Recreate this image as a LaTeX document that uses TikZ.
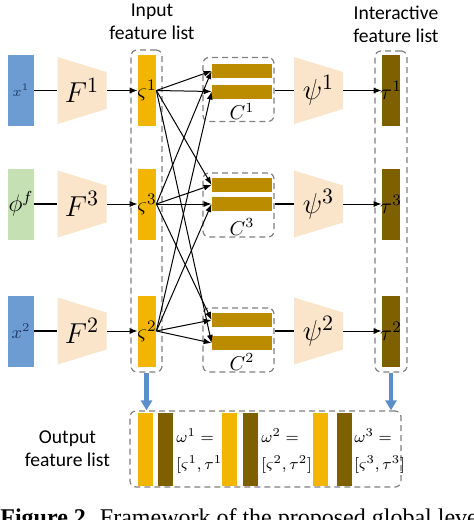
\documentclass[tikz,border=0pt]{standalone}
\usepackage{amssymb}
\usepackage{amsmath}
\usepackage{fontspec}
\newfontfamily\labfont{Carlito}
\newfontfamily\capfont{Liberation Serif}
\usetikzlibrary{positioning,arrows.meta}
\definecolor{inblue}{HTML}{6D9CD3}
\definecolor{ingreen}{HTML}{C5E0B3}
\definecolor{navy}{HTML}{203864}
\definecolor{beige}{HTML}{FAE5CB}
\definecolor{featyellow}{HTML}{F2B600}
\definecolor{pairgold}{HTML}{BC8C00}
\definecolor{featbrown}{HTML}{7F6000}
\definecolor{dashgray}{HTML}{808080}
\definecolor{arrowblue}{HTML}{5B8ECB}

\begin{document}
\begin{tikzpicture}
[x=0.5pt,y=-0.5pt,%%%%%%%%%%%%%%%%%%%%%%%%%%%%%%
inbox/.style={rectangle,minimum width=13pt,minimum height=35.5pt,inner sep=0pt},
funnel/.style={rectangle,minimum width=24.5pt,minimum height=33.5pt,inner sep=0pt,
  font=\fontsize{15}{17}\selectfont,
  path picture={\fill[beige] (path picture bounding box.north west)
    -- ([yshift=-7.5pt]path picture bounding box.north east)
    -- ([yshift=7.5pt]path picture bounding box.south east)
    -- (path picture bounding box.south west) -- cycle;}},
sbar/.style={rectangle,fill=featyellow,minimum width=9pt,minimum height=35.5pt,inner sep=0pt},
tbar/.style={rectangle,fill=featbrown,minimum width=9pt,minimum height=35.5pt,inner sep=0pt},
cbar/.style={rectangle,fill=pairgold,minimum width=30pt,minimum height=7pt,inner sep=0pt},
obar/.style={rectangle,minimum width=7.5pt,minimum height=36.5pt,inner sep=0pt},
barlab/.style={inner sep=0pt,font=\fontsize{11}{12}\selectfont},
clab/.style={inner sep=0pt,font=\fontsize{10}{11}\selectfont},
pairtext/.style={inner sep=0pt,align=left,font=\fontsize{8.5}{13.5}\selectfont},
listlab/.style={inner sep=0pt,align=center,font=\labfont\fontsize{9.8}{11.5}\selectfont},
dashbox/.style={rectangle,draw=dashgray,line width=0.6pt,dash pattern=on 3pt off 2pt,
  rounded corners=3pt,inner sep=0pt},
plain/.style={line width=0.6pt},
link/.style={-{Latex[length=4pt,width=3pt]},line width=0.5pt},
bigarrow/.style={-{Triangle[length=5pt,width=5.5pt]},line width=2.2pt,draw=arrowblue},
]%%%%%%%%%%%%%%%%%%%%%%%%%%%%%%
\useasboundingbox (0,0) rectangle (474,520);

% list frames
\node[dashbox,minimum width=15.5pt,minimum height=161pt] (slist) at (146.5,211) {};
\node[dashbox,minimum width=16pt,minimum height=160.5pt] (tlist) at (391,211.5) {};
\node[listlab] (slab) at (152,22) {Input\\feature list};
\node[listlab] (tlab) at (396,24) {Interactive\\feature list};

% inputs
\node[inbox,fill=inblue,text=navy,font=\fontsize{7}{8}\selectfont] (in1) at (21,90.5) {$x^{1}$};
\node[inbox,fill=ingreen,font=\fontsize{12}{13}\selectfont] (in3) at (21,204) {$\phi^{f}$};
\node[inbox,fill=inblue,text=navy,font=\fontsize{9}{10}\selectfont] (in2) at (21,331) {$x^{2}$};

% pair boxes
\foreach \k/\cy/\ya/\yb in {1/89.5/71/91.5,3/205/185/204,2/340/320/343}{
\node[dashbox,minimum width=35.5pt,minimum height=32pt] (C\k) at (238.5,\cy) {};
\node[cbar] (ca\k) at (242,\ya) {};
\node[cbar] (cb\k) at (242,\yb) {};
\node[clab] (cl\k) at (242,{\cy+22}) {$C^{\k}$};
}

% rows
\foreach \k/\y in {1/90.5,3/204,2/331}{
\node[funnel] (F\k) at (82,\y) {$F^{\k}$};
\node[sbar] (s\k) at (147,\y) {};
\node[barlab] (sl\k) at (s\k) {$\varsigma^{\k}$};
\node[funnel] (psi\k) at (318.5,\y) {$\psi^{\k}$};
\node[tbar] (t\k) at (391,\y) {};
\node[barlab] (tl\k) at (t\k) {$\tau^{\k}$};
\draw[plain] (in\k) -- (F\k);
\draw[link] (F\k) -- (s\k);
\draw[plain] (C\k.east |- psi\k) -- (psi\k);
\draw[link] (psi\k) -- (t\k);
}

% crossing
\foreach \s/\c in {1/ca1,1/cb1,1/ca3,1/cb2,3/ca1,3/ca3,3/cb3,3/ca2,2/cb1,2/cb3,2/ca2,2/cb2}
\draw[link] (s\s.east) -- (\c.west);

% output list
\node[dashbox,minimum width=135.5pt,minimum height=38pt] (outbox) at (265.5,449) {};
\node[listlab,left=9.5pt of outbox] (olab) {Output\\feature list};
\foreach \k/\xa/\xb/\xt in {1/145.5/165.5/176,2/229.5/250.5/261,3/320.5/344/354}{
\node[obar,fill=featyellow] (oy\k) at (\xa,449.5) {};
\node[obar,fill=featbrown] (ob\k) at (\xb,449.5) {};
\node[pairtext,anchor=west] (ot\k) at (\xt,451) {$\omega^{\k}=$\\$[\varsigma^{\k},\tau^{\k}]$};
}
\draw[bigarrow] (slist.south) -- (slist.south |- outbox.north);
\draw[bigarrow] (tlist.south) -- (tlist.south |- outbox.north);

\node[anchor=base west,inner sep=0pt,font=\capfont\fontsize{12}{13}\selectfont] (caption) at (0,525)
  {\textbf{Figure 2.} Framework of the proposed global level};
\end{tikzpicture}
\end{document}
